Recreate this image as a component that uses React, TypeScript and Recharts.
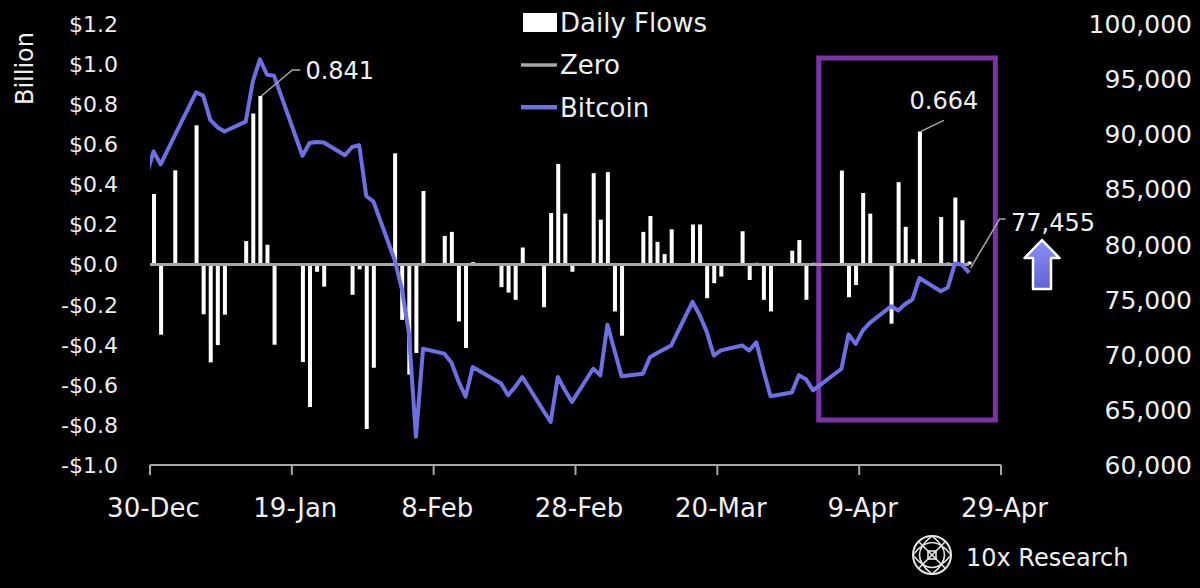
import React from 'react';
import { ComposedChart, Bar, Line, XAxis, YAxis, ReferenceArea, LabelList, Legend } from 'recharts';

// Day offsets from 30-Dec (trading days), Daily ETF flows ($bn) and Bitcoin price
const dayOffsets = [
  -1, 0, 1, 3, 6, 7, 8, 9, 10, 13, 14, 15, 16, 17, 21, 22, 23, 24, 27, 28, 29, 30, 31,
  34, 35, 36, 37, 38, 41, 42, 43, 44, 45, 49, 50, 51, 52, 55, 56, 57, 58, 59,
  62, 63, 64, 65, 66, 69, 70, 71, 72, 73, 76, 77, 78, 79, 80, 83, 84, 85, 86, 87,
  90, 91, 92, 93, 97, 98, 99, 100, 101, 104, 105, 106, 107, 108, 111, 112, 113, 114, 115,
];

const flows: (number | null)[] = [
  null, 0.352, -0.35, 0.47, 0.695, -0.248, -0.488, -0.402, -0.25, 0.117, 0.753, 0.841, 0.099, -0.4,
  -0.486, -0.711, -0.036, -0.11, null, -0.151, -0.024, -0.82, -0.515,
  0.555, -0.276, -0.549, -0.441, 0.367, 0.143, 0.163, -0.284, -0.416, 0.012, -0.113, -0.14, -0.176, 0.085,
  -0.213, 0.257, 0.502, 0.254, -0.036,
  0.456, 0.224, 0.461, -0.234, -0.355, 0.163, 0.242, 0.113, 0.052, 0.176, 0.2, 0.2, -0.168, -0.093, -0.06,
  0.166, -0.077, 0.009, -0.176, -0.234,
  0.069, 0.122, -0.176, 0.009, 0.469, -0.163, -0.102, 0.357, 0.254, -0.295, 0.411, 0.188, 0.026, 0.664,
  0.237, 0.01, 0.334, 0.221, 0.015,
];

const bitcoin = [
  86300, 88440, 87270, 89900, 93800, 93500, 91300, 90650, 90250, 91150, 94800, 96800, 95400, 95300,
  88050, 89200, 89300, 89250, 88100, 88850, 89000, 84400, 83900,
  78600, 76000, 72000, 62560, 70540, 70100, 69300, 67600, 66200, 68880, 67400, 66320, 67100, 67980,
  64900, 63900, 67980, 66800, 65720,
  68730, 68130, 72730, 70380, 68040, 68280, 69780, 70150, 70500, 70840, 74800, 73600, 72100, 69930, 70400,
  70840, 70380, 71130, 68580, 66230,
  66570, 68150, 67780, 66770, 68730, 71850, 70990, 72190, 72890, 74400, 74020, 74600, 75010, 76960,
  75760, 76100, 78280, 78160, 77455,
];

const xTickDays = [0, 20, 40, 60, 80, 100, 120];
const xTickLabels = ['30-Dec', '19-Jan', '8-Feb', '28-Feb', '20-Mar', '9-Apr', '29-Apr'];
const flowTicks = [-1, -0.8, -0.6, -0.4, -0.2, 0, 0.2, 0.4, 0.6, 0.8, 1.0, 1.2];
const btcTicks = [60000, 65000, 70000, 75000, 80000, 85000, 90000, 95000, 100000];
const flowCalloutDays = [15, 108];
const legendOrder = ['Daily Flows', 'Zero', 'Bitcoin'];
const highlight = { fromDay: 94.3, toDay: 119.2, low: -0.775, high: 1.03 };

// bars/points are centred within their day, like a date axis
const lastIdx = dayOffsets.length - 1;
const data = dayOffsets.map((d, i) => ({
  day: d,
  x: d + 0.5,
  flow: flows[i],
  zero: 0,
  btc: bitcoin[i],
  flowCallout: flowCalloutDays.includes(d) && flows[i] != null ? `${flowCalloutDays.indexOf(d)}|${(flows[i] as number).toFixed(3)}` : null,
  btcCallout: i === lastIdx ? bitcoin[i].toLocaleString('en-US') : null,
}));

const FONT = '"DejaVu Sans", Verdana, sans-serif';
const TEXT = '#EFEFEF';
const GREY = '#A6A6A6';
const BLUE = '#6C70E4';
const PURPLE = '#7B33A8';

const fmtFlow = (v: number) => (v < 0 ? `-$${Math.abs(v).toFixed(1)}` : `$${v.toFixed(1)}`);

const LeftTick = (props: any) => (
  <text x={118} y={props.y} dy="0.36em" textAnchor="end" fill={TEXT} fontSize={22} fontFamily={FONT}>
    {fmtFlow(props.payload.value)}
  </text>
);

const RightTick = (props: any) => (
  <text x={1192} y={props.y} dy="0.36em" textAnchor="end" fill={TEXT} fontSize={25} fontFamily={FONT}>
    {Number(props.payload.value).toLocaleString('en-US')}
  </text>
);

const XTick = (props: any) => {
  const idx = xTickDays.indexOf(props.payload.value);
  return (
    <text x={props.x + 3.5} y={props.y} dy={40} textAnchor="middle" fill={TEXT} fontSize={26} fontFamily={FONT}>
      {idx >= 0 ? xTickLabels[idx] : ''}
    </text>
  );
};

const FlowCallout = (props: any) => {
  const { x, y, width, value } = props;
  if (value == null || value === '') return null;
  const [which, label] = String(value).split('|');
  const cx = x + width / 2;
  if (which === '0') {
    return (
      <g>
        <polyline points={`${cx + 1},${y} ${cx + 32},${y - 26} ${cx + 40},${y - 26}`} fill="none" stroke={GREY} strokeWidth={1.5} />
        <text x={cx + 45} y={y - 16.5} fill={TEXT} fontSize={24} fontFamily={FONT}>{label}</text>
      </g>
    );
  }
  return (
    <g>
      <polyline points={`${cx + 1},${y} ${cx + 24},${y - 11}`} fill="none" stroke={GREY} strokeWidth={1.5} />
      <text x={cx + 24} y={y - 22} textAnchor="middle" fill={TEXT} fontSize={24} fontFamily={FONT}>{label}</text>
    </g>
  );
};

const BtcCallout = (props: any) => {
  const { x, y, value } = props;
  if (value == null || value === '') return null;
  return (
    <g>
      <polyline points={`${x + 1.5},${y - 4.5} ${x + 30.5},${y - 53.5} ${x + 36.5},${y - 53.5}`} fill="none" stroke={GREY} strokeWidth={1.5} />
      <text x={x + 42} y={y - 41.5} fill={TEXT} fontSize={24} fontFamily={FONT}>{value}</text>
    </g>
  );
};

const LegendContent = (props: any) => {
  const payload = [...(props.payload || [])].sort(
    (a: any, b: any) => legendOrder.indexOf(a.value) - legendOrder.indexOf(b.value)
  );
  return (
    <svg width={260} height={125} style={{ display: 'block' }}>
      {payload.map((item: any, i: number) => {
        const cy = 22.5 + i * 42.4;
        return (
          <g key={i}>
            {item.type === 'rect' ? (
              <rect x={8} y={cy - 9.5} width={34} height={19} fill="#FFFFFF" />
            ) : (
              <line x1={6} x2={42} y1={cy} y2={cy} stroke={item.color} strokeWidth={item.value === 'Zero' ? 3.5 : 4.5} />
            )}
            <text x={45} y={cy + 9.3} fill={TEXT} fontSize={26} fontFamily={FONT}>{item.value}</text>
          </g>
        );
      })}
    </svg>
  );
};

const Overlay = () => (
  <svg width={1200} height={588} style={{ position: 'absolute', left: 0, top: 0, pointerEvents: 'none' }}>
    <defs>
      <linearGradient id="arrowFill" x1="0" y1="0" x2="0" y2="1">
        <stop offset="0" stopColor="#8C90F2" />
        <stop offset="1" stopColor="#5F63D6" />
      </linearGradient>
      <clipPath id="logoClip">
        <circle cx={932} cy={555} r={18} />
      </clipPath>
    </defs>
    <text transform="translate(33,68.5) rotate(-90)" textAnchor="middle" fill={TEXT} fontSize={24} fontFamily={FONT}>
      Billion
    </text>
    <polygon
      points="1042,240 1059.5,258 1051,258 1051,289 1033,289 1033,258 1024.5,258"
      fill="url(#arrowFill)"
      stroke="#FFFFFF"
      strokeWidth={2.5}
      strokeLinejoin="round"
    />
    <g stroke="#E6E6E6" strokeWidth={1.6} fill="none">
      <circle cx={932} cy={555} r={19} strokeWidth={2} />
      <g clipPath="url(#logoClip)">
        <path d="M913,555 Q932,530 951,555" />
        <path d="M913,555 Q932,580 951,555" />
        <path d="M932,536 Q907,555 932,574" />
        <path d="M932,536 Q957,555 932,574" />
        <line x1={915} y1={538} x2={949} y2={572} />
        <line x1={949} y1={538} x2={915} y2={572} />
      </g>
      <rect x={928} y={551} width={8} height={8} />
    </g>
    <text x={966} y={566} fill={TEXT} fontSize={24} fontFamily={FONT}>10x Research</text>
  </svg>
);

export default function App() {
  return (
    <div style={{ position: 'relative', width: 1200, height: 588, background: '#000', overflow: 'hidden' }}>
      <style>{'html,body{margin:0;padding:0;background:#000;}'}</style>
      <ComposedChart width={1200} height={588} data={data} margin={{ top: 24, right: 0, bottom: 83, left: 0 }}>
        <XAxis
          dataKey="x"
          type="number"
          domain={[0, 120]}
          ticks={xTickDays}
          interval={0}
          allowDataOverflow
          height={40}
          tick={<XTick />}
          tickSize={10}
          axisLine={{ stroke: GREY, strokeWidth: 2 }}
          tickLine={{ stroke: GREY, strokeWidth: 2 }}
        />
        <YAxis
          yAxisId="left"
          domain={[-1, 1.2]}
          ticks={flowTicks}
          interval={0}
          width={150}
          axisLine={false}
          tickLine={false}
          tick={<LeftTick />}
        />
        <YAxis
          yAxisId="right"
          orientation="right"
          domain={[60000, 100000]}
          ticks={btcTicks}
          interval={0}
          width={199}
          axisLine={false}
          tickLine={false}
          tick={<RightTick />}
        />
        <Legend
          layout="vertical"
          align="center"
          verticalAlign="middle"
          wrapperStyle={{ top: 0, left: 515, width: 260, height: 125 }}
          content={<LegendContent />}
        />
        <Bar yAxisId="left" dataKey="flow" name="Daily Flows" fill="#FFFFFF" barSize={4} legendType="rect" isAnimationActive={false}>
          <LabelList dataKey="flowCallout" content={<FlowCallout />} />
        </Bar>
        <Line yAxisId="left" dataKey="zero" name="Zero" stroke={GREY} strokeWidth={3} dot={false} activeDot={false} legendType="line" isAnimationActive={false} />
        <Line yAxisId="right" dataKey="btc" name="Bitcoin" stroke={BLUE} strokeWidth={4} dot={false} activeDot={false} legendType="line" strokeLinejoin="round" isAnimationActive={false}>
          <LabelList dataKey="btcCallout" content={<BtcCallout />} />
        </Line>
        <ReferenceArea
          yAxisId="left"
          x1={highlight.fromDay}
          x2={highlight.toDay}
          y1={highlight.low}
          y2={highlight.high}
          fill="none"
          fillOpacity={0}
          stroke={PURPLE}
          strokeWidth={5}
        />
      </ComposedChart>
      <Overlay />
    </div>
  );
}
